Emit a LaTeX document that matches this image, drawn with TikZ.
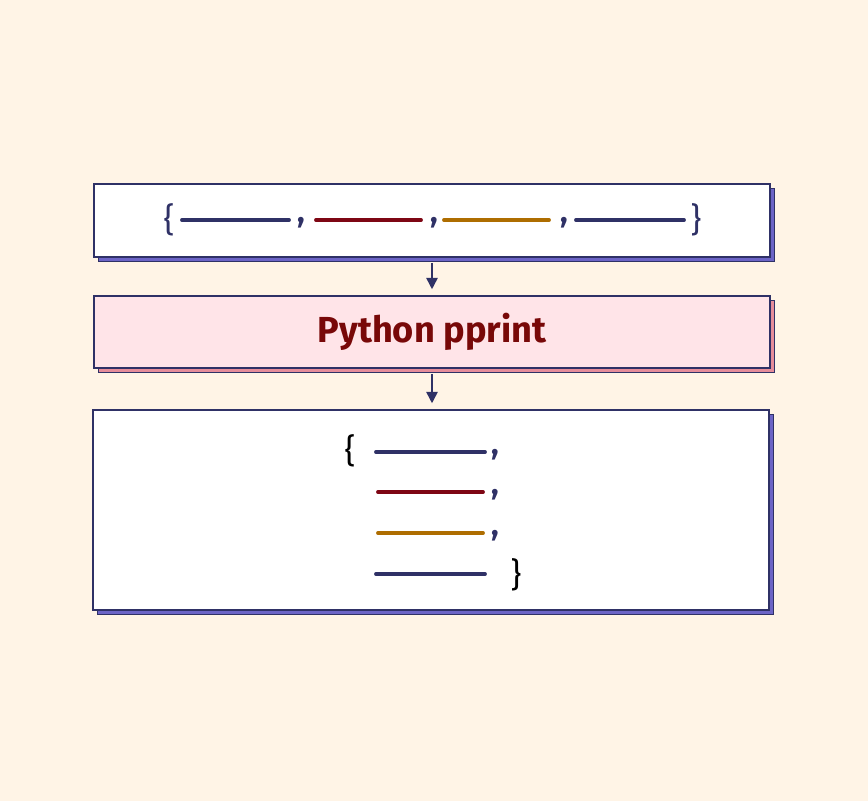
\documentclass[tikz,border=0pt]{standalone}
\usepackage{fontspec}
\setmainfont{Fira Sans}
\usepackage{tikz}
\usetikzlibrary{arrows.meta, positioning, shadows}

\definecolor{bgcream}{HTML}{FFF4E6}
\definecolor{navy}{HTML}{2F3166}
\definecolor{darkred}{HTML}{7E0614}
\definecolor{ochre}{HTML}{AE6D00}
\definecolor{titlered}{HTML}{780808}
\definecolor{shadowpurple}{HTML}{6C64C6}
\definecolor{pinkfill}{HTML}{FFE4E8}
\definecolor{shadowpink}{HTML}{E68C9A}

\begin{document}
\begin{tikzpicture}[
    x=0.02cm, y=-0.02cm,
    card/.style={rectangle, draw=navy, line width=0.9pt, fill=white, minimum width=13.52cm,
        general shadow={fill=shadowpurple, draw=navy, line width=0.9pt, shadow xshift=0.09cm, shadow yshift=-0.09cm}},
    pinkcard/.style={card, fill=pinkfill,
        general shadow={fill=shadowpink, draw=navy, line width=0.9pt, shadow xshift=0.09cm, shadow yshift=-0.09cm}},
    bar/.style={line width=2.2pt, line cap=round},
    brace/.style={inner sep=0pt, font=\fontsize{19}{21}\selectfont},
    comma/.style={inner sep=0pt, text=navy, font=\fontsize{18}{20}\selectfont\bfseries},
    arrow/.style={navy, line width=0.9pt, -{Triangle[length=6.5pt, width=6.5pt]}, shorten <=0.1cm, shorten >=0.12cm}
]
% Background
\fill[bgcream] (0,0) rectangle (868,801);
\useasboundingbox (0,0) rectangle (868,801);

% Boxes
\node[card, minimum height=1.46cm] (dict) at (432, 220.5) {};
\node[pinkcard, minimum height=1.44cm, text=titlered, font=\fontsize{20.6}{24}\selectfont\bfseries] (pp) at (432, 332) {Python pprint};
\node[card, minimum height=4cm] (out) at (431, 510) {};

% Arrows
\draw[arrow] (dict.south) -- (pp.north);
\draw[arrow] (pp.south) -- (pp.south |- out.north);

% One-line dict
\node[brace, text=navy] (lb1) at (169, 220) {\{};
\draw[bar, navy] (182, 220) -- (289, 220);
\node[comma] (c1) at (301, 223) {,};
\draw[bar, darkred] (316, 220) -- (421, 220);
\node[comma] (c2) at (434, 223) {,};
\draw[bar, ochre] (444, 220) -- (549, 220);
\node[comma] (c3) at (564, 223) {,};
\draw[bar, navy] (576, 220) -- (684, 220);
\node[brace, text=navy] (rb1) at (696, 220) {\}};

% Pretty printed dict
\node[brace] (lb2) at (350, 451) {\{};
\draw[bar, navy] (376, 452) -- (485, 452);
\node[comma] (c4) at (495, 455) {,};
\draw[bar, darkred] (378, 492) -- (483, 492);
\node[comma] (c5) at (495, 495) {,};
\draw[bar, ochre] (378, 533) -- (483, 533);
\node[comma] (c6) at (495, 536) {,};
\draw[bar, navy] (376, 574) -- (485, 574);
\node[brace] (rb2) at (516, 575) {\}};
\end{tikzpicture}
\end{document}
